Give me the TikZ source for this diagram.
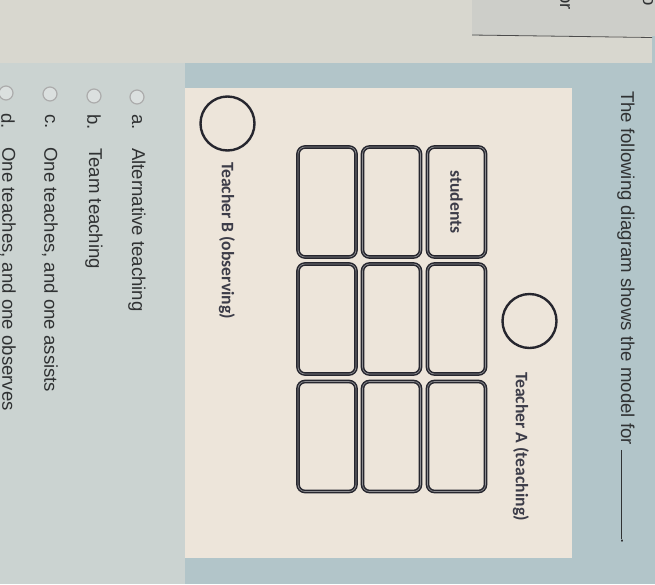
\documentclass[tikz,border=0pt]{standalone}
\usepackage{fontspec}
\setmainfont{Liberation Sans}
\newfontfamily\labelfont{Carlito}
\definecolor{screenblue}{HTML}{B2C5C9}
\definecolor{topstrip}{HTML}{D8D7CF}
\definecolor{greybox}{HTML}{CDCEC9}
\definecolor{leftpane}{HTML}{CBD3D1}
\definecolor{panel}{HTML}{EDE5DA}
\definecolor{cellline}{HTML}{26262E}
\definecolor{cellgap}{HTML}{8C8C90}
\definecolor{labelgrey}{HTML}{3C3C48}
\definecolor{textdark}{HTML}{303233}
\tikzset{
  cell/.style={draw=cellline, double=cellgap, double distance=0.7pt, line width=1.5pt,
    rounded corners=7pt, minimum width=110pt, minimum height=58pt, inner sep=0pt, rotate=-90},
  teacher/.style={circle, draw=cellline, line width=2.4pt, minimum size=54pt, inner sep=0pt},
  radio/.style={circle, draw=gray!65, fill=leftpane!70!white, line width=1.2pt, minimum size=14pt, inner sep=0pt},
  vtext/.style={rotate=-90, anchor=west, inner sep=0pt},
  optfont/.style={font=\fontsize{18.6}{20}\selectfont, text=textdark},
  labfont/.style={font=\labelfont\bfseries\fontsize{17.6}{19}\selectfont, text=labelgrey},
}
\begin{document}
\begin{tikzpicture}[x=1pt, y=-1pt]
			\useasboundingbox (0,0) rectangle (655,584);
			\clip (0,0) rectangle (655,584);
			%screen background
			\fill[screenblue] (0,0) rectangle (655,584);
			\fill[topstrip] (0,0) rectangle (652,63);
			\fill[leftpane] (0,63) rectangle (185,584);
			\fill[greybox] (472,0) rectangle (655,36);
			\draw[gray!60!black, line width=0.8pt] (472,35) -- (652,37.5);
			\node[vtext, optfont] (cutor) at (565,-7) {or};
			\node[vtext, optfont] (cuto) at (648,-5) {o};
			
			%question
			\node[vtext, optfont] (question) at (626,91) {The following diagram shows the model for \rule{89pt}{0.8pt}.};
			
			%diagram panel
			\fill[panel] (185,88) rectangle (572,558);
			\foreach \i/\x in {1/327, 2/391.5, 3/456.5}{
				\foreach \j/\y in {1/202, 2/319, 3/436.5}{
					\node[cell] (cell-\i-\j) at (\x, \y) {};
				}
			}
			\node[labfont, rotate=-90] (students) at (cell-3-1) {students};
			
			\node[teacher] (teacherA) at (529.5, 321) {};
			\node[vtext, labfont] (teacherA-label) at (521, 372) {Teacher A (teaching)};
			\node[teacher] (teacherB) at (227.5, 123.5) {};
			\node[vtext, labfont] (teacherB-label) at (227, 162) {Teacher B (observing)};
			
			%answers
			\node[radio] (radio-a) at (137, 97) {};
			\node[vtext, optfont] (letter-a) at (137, 114) {a.};
			\node[vtext, optfont] (answer-a) at (137, 148) {Alternative teaching};
			\node[radio] (radio-b) at (94, 96) {};
			\node[vtext, optfont] (letter-b) at (94, 114) {b.};
			\node[vtext, optfont] (answer-b) at (94, 148) {Team teaching};
			\node[radio] (radio-c) at (50, 94) {};
			\node[vtext, optfont] (letter-c) at (50, 114) {c.};
			\node[vtext, optfont] (answer-c) at (50, 147) {One teaches, and one assists};
			\node[radio] (radio-d) at (6, 93) {};
			\node[vtext, optfont] (letter-d) at (8, 113) {d.};
			\node[vtext, optfont] (answer-d) at (8, 147) {One teaches, and one observes};
\end{tikzpicture}
\end{document}
